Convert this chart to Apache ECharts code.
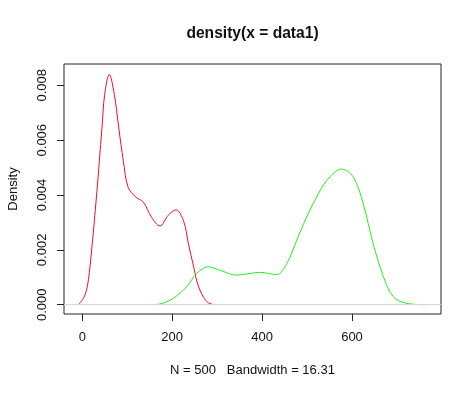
<!DOCTYPE html>
<html>
<head>
<meta charset="utf-8">
<script src="https://cdn.jsdelivr.net/npm/echarts@6/dist/echarts.min.js"></script>
<style>html,body{margin:0;padding:0;background:#fff}#c{width:474px;height:395px}</style>
</head>
<body>
<div id="c"></div>
<script>
const titleText = 'density(x = data1)';
const xLabelText = 'N = 500   Bandwidth = 16.31';
const yLabelText = 'Density';
const xTicks = [0, 200, 400, 600];
const yTicks = [0, 0.002, 0.004, 0.006, 0.008];

const redX = [-8.9, 2.3, 11, 19, 32, 43.8, 49.8, 60, 71.2, 81, 91.3, 102, 119.5, 135.8, 154, 172.9, 191, 208.5, 225, 236, 247.8, 258.8, 277, 293];
const redY = [0, 0.00023, 0.00065, 0.0017, 0.00404, 0.00646, 0.00767, 0.0084, 0.00767, 0.00646, 0.00525, 0.00428, 0.00392, 0.00374, 0.00319, 0.00287, 0.00326, 0.00346, 0.00307, 0.00223, 0.00138, 0.00065, 0.00011, 0];

const greenX = [161.7, 180, 202.5, 232, 254.5, 280.4, 306, 343.5, 373, 395, 432.5, 455, 477, 499, 521, 544, 577, 603, 625, 647, 670, 692, 722, 766];
const greenY = [0, 0.00006, 0.00023, 0.00065, 0.00114, 0.00138, 0.00126, 0.00108, 0.00114, 0.00118, 0.0011, 0.0015, 0.00235, 0.0032, 0.00392, 0.00453, 0.00495, 0.00465, 0.00368, 0.00223, 0.00102, 0.00029, 0.00005, 0];

const pair = (xs, ys) => xs.map((x, i) => [x, ys[i]]);
const FONT = '"Liberation Sans", Arial, sans-serif';

const chart = echarts.init(document.getElementById('c'), null, {renderer: 'canvas'});
chart.setOption({
  animation: false,
  backgroundColor: '#fff',
  grid: {left: 64, right: 33, top: 64, bottom: 81, show: true, borderColor: '#222', borderWidth: 1, backgroundColor: 'transparent'},
  xAxis: {
    type: 'value', min: -40.7, max: 798,
    axisLine: {show: false, onZero: false},
    splitLine: {show: false},
    axisTick: {show: true, length: 7, inside: false, customValues: xTicks, lineStyle: {color: '#222'}},
    axisLabel: {customValues: xTicks, margin: 17, fontSize: 13, color: '#111', fontFamily: FONT}
  },
  yAxis: {
    type: 'value', min: -0.000338, max: 0.008778,
    axisLine: {show: false, onZero: false},
    splitLine: {show: false},
    axisTick: {show: true, length: 7, inside: false, customValues: yTicks, lineStyle: {color: '#222'}},
    axisLabel: {customValues: yTicks, rotate: 90, margin: 15, fontSize: 13, color: '#111', fontFamily: FONT,
      formatter: v => v.toFixed(3)}
  },
  series: [
    {type: 'line', data: pair(redX, redY), showSymbol: false, smooth: 0.35, lineStyle: {color: '#ee1122', width: 1},
     markLine: {silent: true, symbol: 'none', label: {show: false}, lineStyle: {color: '#d6d6d6', type: 'solid', width: 1}, data: [{yAxis: 0}]}},
    {type: 'line', data: pair(greenX, greenY), showSymbol: false, smooth: 0.35, lineStyle: {color: '#22ee22', width: 1}}
  ],
  graphic: [
    {type: 'text', x: 252.5, y: 33.3, style: {text: titleText, font: 'bold 15.6px ' + FONT, fill: '#111', textAlign: 'center', textVerticalAlign: 'middle'}},
    {type: 'text', x: 252.5, y: 370.7, style: {text: xLabelText, font: '13px ' + FONT, fill: '#111', textAlign: 'center', textVerticalAlign: 'middle'}},
    {type: 'text', x: 13, y: 189, rotation: Math.PI / 2, style: {text: yLabelText, font: '13px ' + FONT, fill: '#111', textAlign: 'center', textVerticalAlign: 'middle'}}
  ]
});
</script>
</body>
</html>
